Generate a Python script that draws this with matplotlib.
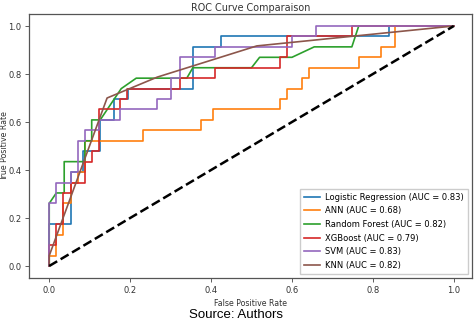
import matplotlib
matplotlib.use("Agg")
import matplotlib.pyplot as plt

n_pos = 23.0

# Logistic Regression
lr_fpr = [0, 0, 0.053, 0.053, 0.084, 0.084, 0.126, 0.126, 0.16, 0.16, 0.195, 0.195, 0.355, 0.355, 0.425, 0.425, 0.84, 0.84, 1.0]
lr_tpr = [0, 4, 4, 9, 9, 11, 11, 14, 14, 16, 16, 17, 17, 21, 21, 22, 22, 23, 23]

# ANN
ann_fpr = [0, 0, 0.0175, 0.0175, 0.035, 0.035, 0.053, 0.053, 0.07, 0.07, 0.088, 0.088, 0.232, 0.232, 0.375, 0.375,
           0.405, 0.405, 0.57, 0.57, 0.588, 0.588, 0.625, 0.625, 0.642, 0.642, 0.765, 0.765, 0.82, 0.82, 0.854, 0.854, 1.0]
ann_tpr = [0, 1, 1, 3, 3, 6, 6, 8, 8, 9, 9, 12, 12, 13, 13, 14, 14, 15, 15, 16, 16, 17, 17, 18, 18, 19, 19, 20, 20, 21, 21, 23, 23]

# Random Forest
rf_fpr = [0, 0, 0.0175, 0.037, 0.037, 0.088, 0.088, 0.105, 0.105, 0.126, 0.178, 0.215, 0.34, 0.355, 0.50, 0.52, 0.60, 0.655, 0.748, 0.765, 1.0]
rf_tpr = [0, 6, 7, 7, 10, 10, 12, 12, 14, 14, 17, 18, 18, 19, 19, 20, 20, 21, 21, 23, 23]

# XGBoost
xgb_fpr = [0, 0, 0.0175, 0.0175, 0.035, 0.035, 0.053, 0.053, 0.088, 0.088, 0.105, 0.105, 0.123, 0.123, 0.175, 0.175,
           0.193, 0.193, 0.323, 0.323, 0.41, 0.41, 0.57, 0.57, 0.588, 0.588, 0.748, 0.748, 1.0]
xgb_tpr = [0, 2, 2, 4, 4, 7, 7, 8, 8, 10, 10, 11, 11, 15, 15, 16, 16, 17, 17, 18, 18, 19, 19, 20, 20, 22, 22, 23, 23]

# SVM
svm_fpr = [0, 0, 0.0175, 0.0175, 0.053, 0.053, 0.07, 0.07, 0.088, 0.088, 0.123, 0.123, 0.175, 0.175, 0.267, 0.267,
           0.30, 0.30, 0.323, 0.323, 0.41, 0.41, 0.60, 0.60, 0.66, 0.66, 1.0]
svm_tpr = [0, 6, 6, 8, 8, 9, 9, 12, 12, 13, 13, 14, 14, 15, 15, 16, 16, 18, 18, 20, 20, 21, 21, 22, 22, 23, 23]

# KNN
knn_fpr = [0, 0, 0.143, 0.267, 0.513, 1.0]
knn_tpr = [0, 0.043, 0.70, 0.787, 0.917, 1.0]

labels = ["Logistic Regression (AUC = 0.83)", "ANN (AUC = 0.68)", "Random Forest (AUC = 0.82)",
          "XGBoost (AUC = 0.79)", "SVM (AUC = 0.83)", "KNN (AUC = 0.82)"]

fig = plt.figure(figsize=(4.74, 3.21), dpi=100)
ax = fig.add_axes([29/474, 1-278/321, (472-29)/474, (278-14)/321])

series = [
    (lr_fpr, [t / n_pos for t in lr_tpr]),
    (ann_fpr, [t / n_pos for t in ann_tpr]),
    (rf_fpr, [t / n_pos for t in rf_tpr]),
    (xgb_fpr, [t / n_pos for t in xgb_tpr]),
    (svm_fpr, [t / n_pos for t in svm_tpr]),
    (knn_fpr, knn_tpr),
]
for (f, t), lab, c in zip(series, labels, ["C0", "C1", "C2", "C3", "C4", "C5"]):
    ax.plot(f, t, color=c, lw=1.2, label=lab)
ax.plot([0, 1], [0, 1], "k--", lw=1.8)

ax.set_xlim(-0.05, 1.045)
ax.set_ylim(-0.05, 1.05)
ax.set_xticks([0, 0.2, 0.4, 0.6, 0.8, 1.0])
ax.set_yticks([0, 0.2, 0.4, 0.6, 0.8, 1.0])
ax.tick_params(labelsize=6.0, length=3, width=0.6, pad=2.5, colors="#444444", labelcolor="#333333")
for s in ax.spines.values():
    s.set_color("#555555")
    s.set_linewidth(0.9)
ax.set_xlabel("False Positive Rate", fontsize=5.7, color="#333333", labelpad=3)
ax.set_ylabel("True Positive Rate", fontsize=5.7, color="#333333")
ax.yaxis.set_label_coords(-0.046, 0.5)
ax.set_title("ROC Curve Comparaison", fontsize=6.9, color="#333333", pad=2)
ax.legend(loc="lower right", fontsize=6.0, frameon=True, handlelength=1.9, handletextpad=0.6,
          borderpad=0.5, labelspacing=0.55, fancybox=False, edgecolor="#cccccc", framealpha=1)

fig.text(236/474, 1-315/321, "Source: Authors", fontsize=9.5, family="Liberation Sans",
         ha="center", va="center", color="black")

fig.savefig("out.png", dpi=100)
